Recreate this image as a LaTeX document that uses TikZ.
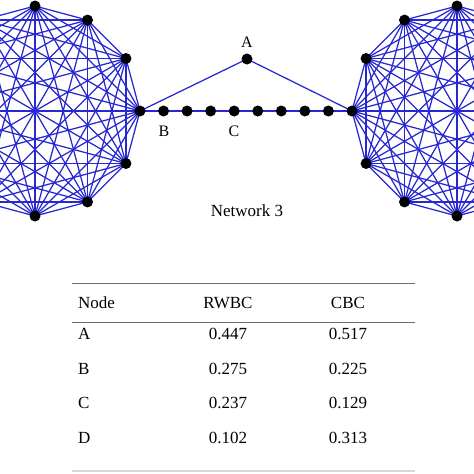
\documentclass[tikz,border=0pt]{standalone}
\usepackage{fontspec}
\setmainfont{Liberation Serif}
\definecolor{edgeblue}{RGB}{40,40,210}
\definecolor{rulegray}{RGB}{110,110,110}
\definecolor{lightrule}{RGB}{215,215,215}
\tikzset{
  edge/.style={draw=edgeblue, line width=1.25pt},
  dot/.style={circle, fill=black, inner sep=0pt, minimum size=11pt},
  lbl/.style={font=\fontsize{16}{19}\selectfont, anchor=base, inner sep=0pt},
  txt/.style={font=\fontsize{17}{20}\selectfont, anchor=base, inner sep=0pt},
  toprule/.style={draw=rulegray, line width=1pt},
  botrule/.style={draw=lightrule, line width=2.2pt}
}
\begin{document}
\begin{tikzpicture}[x=1pt,y=-1pt]
\fill[white] (0,0) rectangle (474,474);
\useasboundingbox (0,0) rectangle (474,474);
\begin{scope}
\clip (0,0) rectangle (474,474);
% clique positions
\foreach \i in {0,...,11} {
  \coordinate (L\i) at ({35+105*cos(30*\i)},{111-105*sin(30*\i)});
  \coordinate (R\i) at ({457+105*cos(30*\i)},{111-105*sin(30*\i)});
}
\foreach \i in {1,...,8} {
  \coordinate (P\i) at ({140+\i*23.55},111);
}
\coordinate (A) at (247,59);
% clique edges
\foreach \i in {0,...,10} {
  \pgfmathtruncatemacro{\s}{\i+1}
  \foreach \j in {\s,...,11} {
    \draw[edge] (L\i) -- (L\j);
    \draw[edge] (R\i) -- (R\j);
  }
}
% bridge
\draw[edge] (L0) -- (P1) -- (P2) -- (P3) -- (P4) -- (P5) -- (P6) -- (P7) -- (P8) -- (R6);
\draw[edge] (L0) -- (A) -- (R6);
% dots
\foreach \i in {0,...,11} {
  \node[dot] at (L\i) {};
  \node[dot] at (R\i) {};
}
\foreach \i in {1,...,8} { \node[dot] at (P\i) {}; }
\node[dot] at (A) {};
\end{scope}
% labels
\node[lbl] (labA) at (247,47) {A};
\node[lbl] (labB) at (164,136) {B};
\node[lbl] (labC) at (234,136) {C};
\node[txt] (cap) at (247,216) {Network 3};
% table
\coordinate (t1) at (72,283); \coordinate (t2) at (415,283);
\coordinate (m1) at (72,322); \coordinate (m2) at (415,322);
\coordinate (b1) at (72,471); \coordinate (b2) at (415,471);
\draw[toprule] (t1) -- (t2);
\draw[toprule] (m1) -- (m2);
\draw[botrule] (b1) -- (b2);
\node[txt, anchor=base west] (hN) at (78,308) {Node};
\node[txt] (hR) at (228,308) {RWBC};
\node[txt] (hC) at (348,308) {CBC};
\node[txt, anchor=base west] (nA) at (78,339) {A};
\node[txt] (rA) at (228,339) {0.447};
\node[txt] (cA) at (348,339) {0.517};
\node[txt, anchor=base west] (nB) at (78,374) {B};
\node[txt] (rB) at (228,374) {0.275};
\node[txt] (cB) at (348,374) {0.225};
\node[txt, anchor=base west] (nC) at (78,408) {C};
\node[txt] (rC) at (228,408) {0.237};
\node[txt] (cC) at (348,408) {0.129};
\node[txt, anchor=base west] (nD) at (78,443) {D};
\node[txt] (rD) at (228,443) {0.102};
\node[txt] (cD) at (348,443) {0.313};
\end{tikzpicture}
\end{document}
